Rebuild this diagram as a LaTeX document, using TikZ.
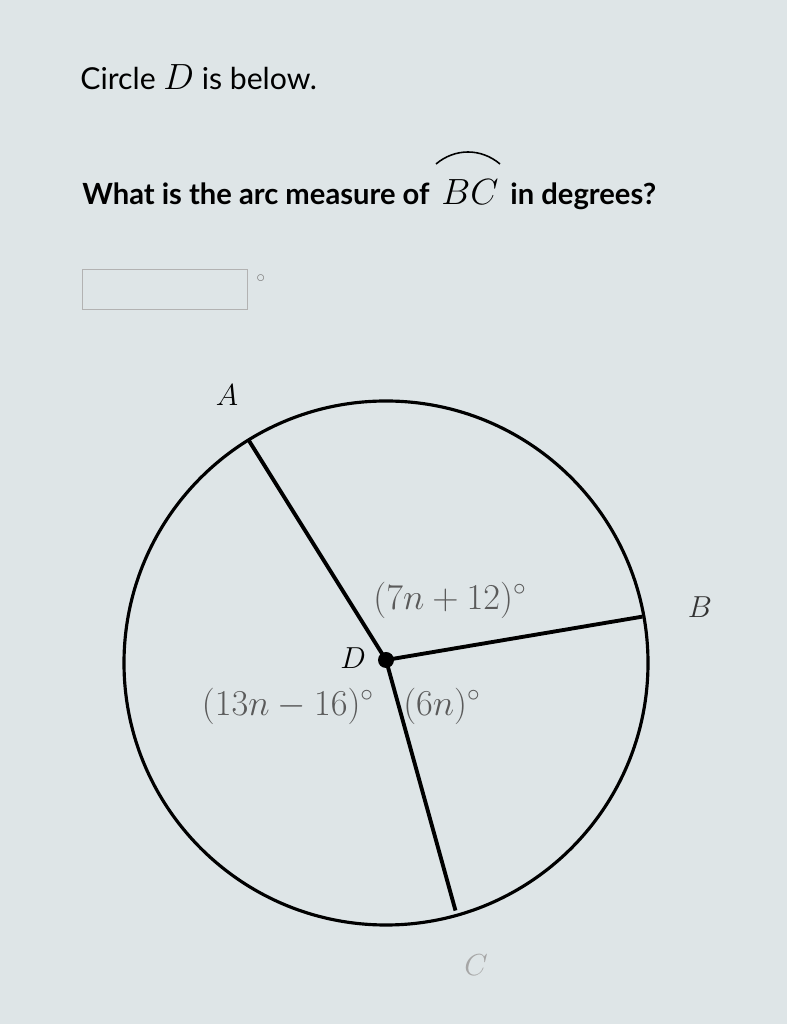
\documentclass[tikz,border=0pt]{standalone}
\usepackage{amsmath}
\usepackage[no-math]{fontspec}
\setmainfont{Lato}
\usepackage{xcolor}
\usetikzlibrary{calc,positioning}
\definecolor{screen}{RGB}{222,229,231}
\definecolor{labelgray}{RGB}{90,90,90}
\newcommand{\bigmath}[1]{{\fontsize{20}{22}\selectfont$#1$}}
\tikzset{%
	pointlabel/.style = {font=\fontsize{18}{20}\selectfont},
	anglelabel/.style = {text=labelgray, font=\fontsize{22}{24}\selectfont},
	radius line/.style = {line width=2.2pt},
}

\begin{document}
\begin{tikzpicture}[x=0.02cm,y=0.02cm]
	\fill[screen] (0,0) rectangle (787,1024);  % background
	\useasboundingbox (0,0) rectangle (787,1024);
	
	% question text
	\node[anchor=base west, inner sep=0pt, font=\fontsize{17.2}{20}\selectfont] (title) at (80,934) {Circle \bigmath{D} is below.};
	\node[anchor=base west, inner sep=0pt, font=\fontsize{16.6}{20}\selectfont\bfseries] (question) at (82,819) {What is the arc measure of \,\bigmath{BC}\, in degrees?};
	\draw[line width=0.9pt] (436,860) .. controls (455,876) and (481,876) .. (500,860);
	
	% answer box
	\node[draw=gray!60, line width=0.8pt, minimum width=3.3cm, minimum height=0.8cm, inner sep=0pt, anchor=south west] (answer) at (82,714) {};
	\node[right=1pt of answer.north east, anchor=north west, text=gray] (deg) {$\circ$};
	
	% circle D
	\coordinate (D) at (386,364);
	\draw[line width=1.8pt] (386,361) circle (262);
	\coordinate (A) at ($(D)+(122:260)$);
	\coordinate (B) at ($(D)+(9.6:260)$);
	\coordinate (C) at ($(D)+(-74.5:260)$);
	\draw[radius line] (D) -- (A);
	\draw[radius line] (D) -- (B);
	\draw[radius line] (D) -- (C);
	\fill (D) circle (8);
	
	\node[pointlabel] (labA) at (227,629) {$A$};
	\node[pointlabel, text=black!80] (labB) at (700,417) {$B$};
	\node[pointlabel, text=gray!70] (labC) at (476,59) {$C$};
	\node[pointlabel] (labD) at (353,366) {$D$};
	
	\node[anglelabel] (angAB) at (450,424) {$(7n+12)^\circ$};
	\node[anglelabel] (angCA) at (288,318) {$(13n-16)^\circ$};
	\node[anglelabel] (angBC) at (442,318) {$(6n)^\circ$};
\end{tikzpicture}
\end{document}
